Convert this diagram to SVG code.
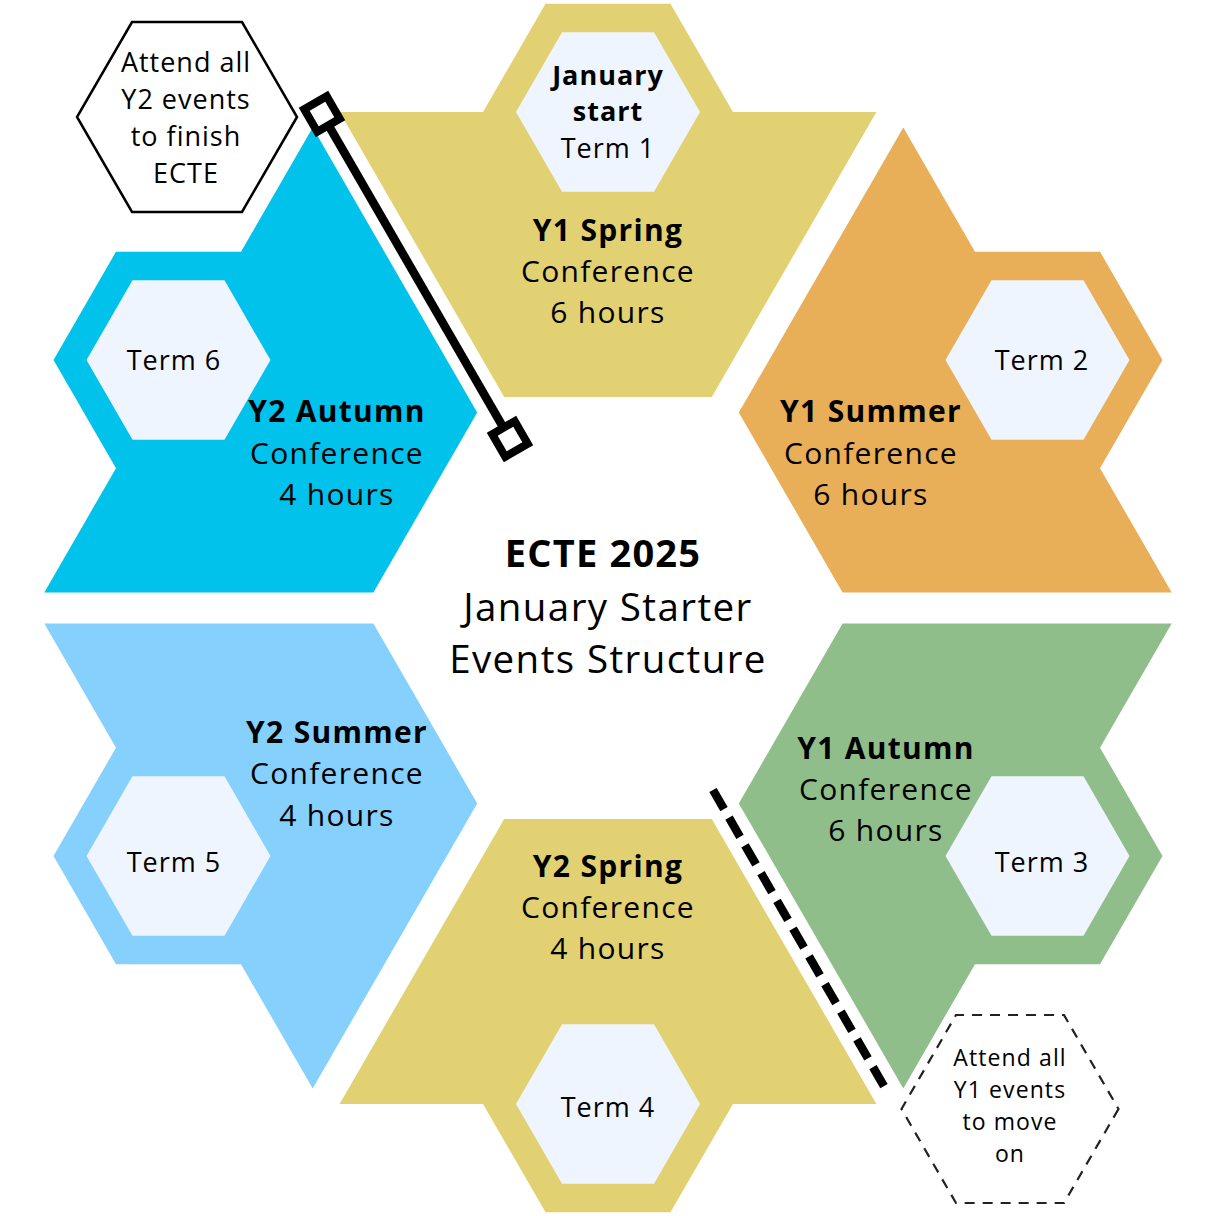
<svg xmlns="http://www.w3.org/2000/svg" xmlns:xlink="http://www.w3.org/1999/xlink" width="1216" height="1216" viewBox="0 0 1216 1216">
<style>
text{font-family:"Open Sans","Liberation Sans",sans-serif;fill:#000;text-anchor:middle}
.t{font-size:30px;letter-spacing:1.3px}
.b{font-weight:bold}
.term{font-size:27px;letter-spacing:1px}
.ttl{font-size:38px;letter-spacing:1.2px}
.ttl2{font-size:38.5px;letter-spacing:1.4px}
.ann1{font-size:27px;letter-spacing:1px}
.ann2{font-size:23px;letter-spacing:1.1px}
.yel{fill:#E2D172}.ora{fill:#E8AE58}.grn{fill:#90BE8B}.cya{fill:#00C2EB}.lbl{fill:#85D0FD}.lt{fill:#EFF5FE}
</style>
<defs>
<polygon id="hexO" points="125,0 62.5,108.3 -62.5,108.3 -125,0 -62.5,-108.3 62.5,-108.3"/>
<polygon id="hexI" points="92,0 46,79.7 -46,79.7 -92,0 -46,-79.7 46,-79.7"/>
<marker id="sq" markerUnits="userSpaceOnUse" markerWidth="44" markerHeight="44" refX="22" refY="22" orient="auto">
<rect x="9" y="9" width="26" height="26" fill="#fff" stroke="#000" stroke-width="8"/>
</marker>
</defs>
<rect width="1216" height="1216" fill="#fff"/>

<g id="y1-spring">
<polygon class="yel" points="339.6,112 876.4,112 711.8,397 504.2,397"/>
<use href="#hexO" x="608" y="112" class="yel"/>
<use href="#hexI" x="608" y="112" class="lt"/>
<text class="term b" x="608" y="85">January</text>
<text class="term b" x="608" y="121">start</text>
<text class="term" x="608" y="158">Term 1</text>
<text class="t b" x="608" y="241">Y1 Spring</text>
<text class="t" x="608" y="282">Conference</text>
<text class="t" x="608" y="323">6 hours</text>
</g>

<g id="y1-summer">
<polygon class="ora" points="903.3,127.6 1171.7,592.4 842.6,592.4 738.8,412.6"/>
<use href="#hexO" x="1037.5" y="360" class="ora"/>
<use href="#hexI" x="1037.5" y="360" class="lt"/>
<text class="term" x="1042" y="370">Term 2</text>
<text class="t b" x="871" y="422">Y1 Summer</text>
<text class="t" x="871" y="464">Conference</text>
<text class="t" x="871" y="505">6 hours</text>
</g>

<g id="y1-autumn">
<polygon class="grn" points="1171.7,623.6 903.3,1088.4 738.8,803.4 842.6,623.6"/>
<use href="#hexO" x="1037.5" y="856" class="grn"/>
<use href="#hexI" x="1037.5" y="856" class="lt"/>
<text class="term" x="1042" y="872">Term 3</text>
<text class="t b" x="886" y="759">Y1 Autumn</text>
<text class="t" x="886" y="800">Conference</text>
<text class="t" x="886" y="841">6 hours</text>
</g>

<g id="y2-spring">
<polygon class="yel" points="876.4,1104 339.6,1104 504.2,819 711.8,819"/>
<use href="#hexO" x="608" y="1104" class="yel"/>
<use href="#hexI" x="608" y="1104" class="lt"/>
<text class="term" x="608" y="1117">Term 4</text>
<text class="t b" x="608" y="877">Y2 Spring</text>
<text class="t" x="608" y="918">Conference</text>
<text class="t" x="608" y="959">4 hours</text>
</g>

<g id="y2-summer">
<polygon class="lbl" points="312.7,1088.4 44.3,623.6 373.4,623.6 477.2,803.4"/>
<use href="#hexO" x="178.5" y="856" class="lbl"/>
<use href="#hexI" x="178.5" y="856" class="lt"/>
<text class="term" x="174" y="872">Term 5</text>
<text class="t b" x="337" y="743">Y2 Summer</text>
<text class="t" x="337" y="784">Conference</text>
<text class="t" x="337" y="826">4 hours</text>
</g>

<g id="y2-autumn">
<polygon class="cya" points="44.3,592.4 312.7,127.6 477.2,412.6 373.4,592.4"/>
<use href="#hexO" x="178.5" y="360" class="cya"/>
<use href="#hexI" x="178.5" y="360" class="lt"/>
<text class="term" x="174" y="370">Term 6</text>
<text class="t b" x="337" y="422">Y2 Autumn</text>
<text class="t" x="337" y="464">Conference</text>
<text class="t" x="337" y="505">4 hours</text>
</g>

<g id="title">
<text class="ttl b" x="603" y="567">ECTE 2025</text>
<text class="ttl2" x="608" y="621">January Starter</text>
<text class="ttl2" x="608" y="673">Events Structure</text>
</g>

<g id="note-y2">
<polygon points="297,117 242,212 132,212 77,117 132,22 242,22" fill="#fff" stroke="#000" stroke-width="2.5"/>
<text class="ann1" x="186" y="72">Attend all</text>
<text class="ann1" x="186" y="109">Y2 events</text>
<text class="ann1" x="186" y="146">to finish</text>
<text class="ann1" x="186" y="183">ECTE</text>
</g>

<g id="note-y1">
<polygon points="1118.5,1109 1064,1203 956,1203 901.5,1109 956,1015 1064,1015" fill="#fff" stroke="#222" stroke-width="2.2" stroke-dasharray="10 8"/>
<text class="ann2" x="1010" y="1066">Attend all</text>
<text class="ann2" x="1010" y="1098">Y1 events</text>
<text class="ann2" x="1010" y="1130">to move</text>
<text class="ann2" x="1010" y="1162">on</text>
</g>

<g id="connectors">
<line x1="322" y1="114" x2="510" y2="439" stroke="#000" stroke-width="8.5" marker-start="url(#sq)" marker-end="url(#sq)"/>
<line x1="713" y1="790" x2="885" y2="1088" stroke="#000" stroke-width="8.5" stroke-dasharray="22 10"/>
</g>
</svg>
